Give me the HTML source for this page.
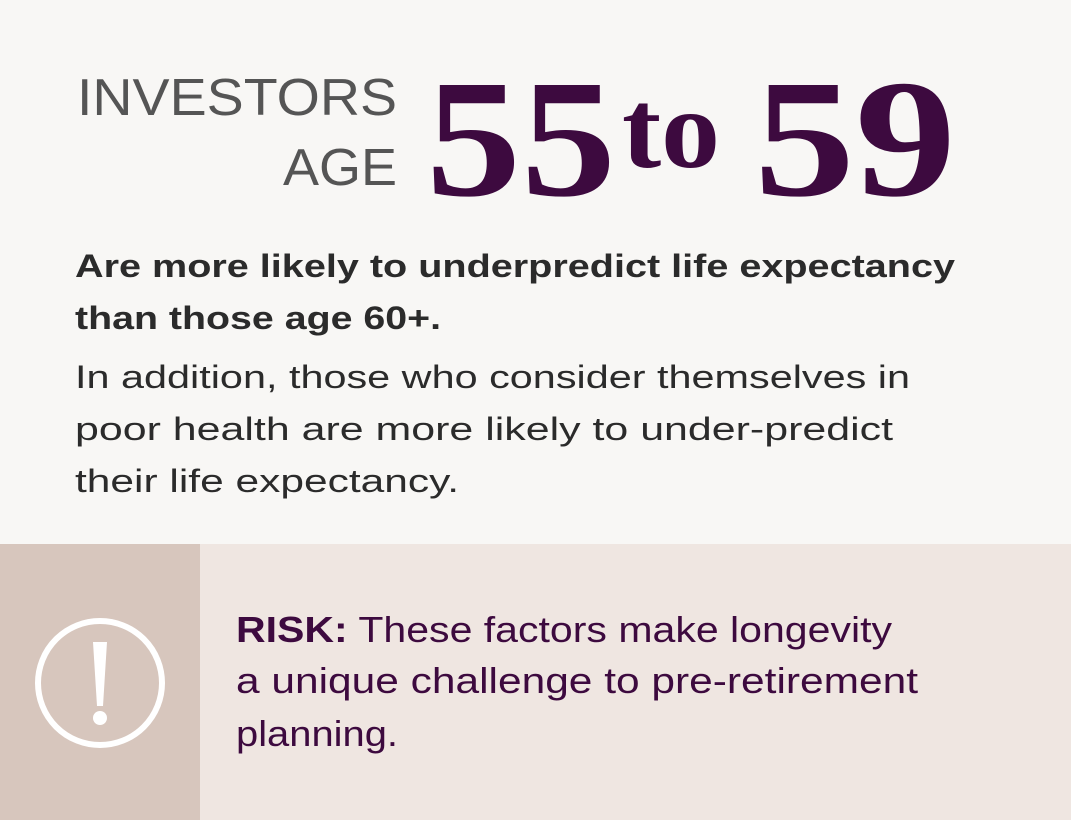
<!DOCTYPE html>
<html><head><meta charset="utf-8"><style>
html,body{margin:0;padding:0;width:1071px;height:820px;overflow:hidden;background:#f8f7f5}
</style></head><body>
<svg width="1071" height="820" viewBox="0 0 1071 820" xmlns="http://www.w3.org/2000/svg">
<rect x="0" y="0" width="1071" height="544" fill="#f8f7f5"/>
<rect x="0" y="544" width="200" height="276" fill="#d7c6bd"/>
<rect x="200" y="544" width="871" height="276" fill="#efe6e1"/>
<g font-family="Liberation Sans, sans-serif" fill="#555">
<text x="77" y="115" font-size="52" textLength="320" lengthAdjust="spacingAndGlyphs">INVESTORS</text>
<text x="283" y="185" font-size="52" textLength="114" lengthAdjust="spacingAndGlyphs">AGE</text>
</g>
<g font-family="Liberation Serif, serif" font-weight="bold" fill="#3d0a3f">
<text x="426" y="195" font-size="168" textLength="190" lengthAdjust="spacingAndGlyphs">55</text>
<text x="622" y="167" font-size="112" textLength="98" lengthAdjust="spacingAndGlyphs">to</text>
<text x="754" y="195" font-size="168" textLength="202" lengthAdjust="spacingAndGlyphs">59</text>
</g>
<g font-family="Liberation Sans, sans-serif" fill="#2b2b2b" font-size="32">
<text x="75" y="277" font-weight="bold" textLength="880" lengthAdjust="spacingAndGlyphs">Are more likely to underpredict life expectancy</text>
<text x="75" y="329" font-weight="bold" textLength="366" lengthAdjust="spacingAndGlyphs">than those age 60+.</text>
<text x="75" y="388" textLength="835" lengthAdjust="spacingAndGlyphs">In addition, those who consider themselves in</text>
<text x="75" y="440" textLength="818" lengthAdjust="spacingAndGlyphs">poor health are more likely to under-predict</text>
<text x="75" y="492" textLength="384" lengthAdjust="spacingAndGlyphs">their life expectancy.</text>
</g>
<g font-family="Liberation Sans, sans-serif" fill="#3d0a3f" font-size="36">
<text x="236" y="642" textLength="656" lengthAdjust="spacingAndGlyphs"><tspan font-weight="bold">RISK:</tspan> These factors make longevity</text>
<text x="236" y="693" textLength="682" lengthAdjust="spacingAndGlyphs">a unique challenge to pre-retirement</text>
<text x="236" y="746" textLength="162" lengthAdjust="spacingAndGlyphs">planning.</text>
</g>
<circle cx="100" cy="683" r="62" fill="none" stroke="#fff" stroke-width="6"/>
<path d="M93 642 L107 642 L103 706 L97 706 Z" fill="#fff"/>
<circle cx="100" cy="718" r="7" fill="#fff"/>
</svg>
</body></html>
